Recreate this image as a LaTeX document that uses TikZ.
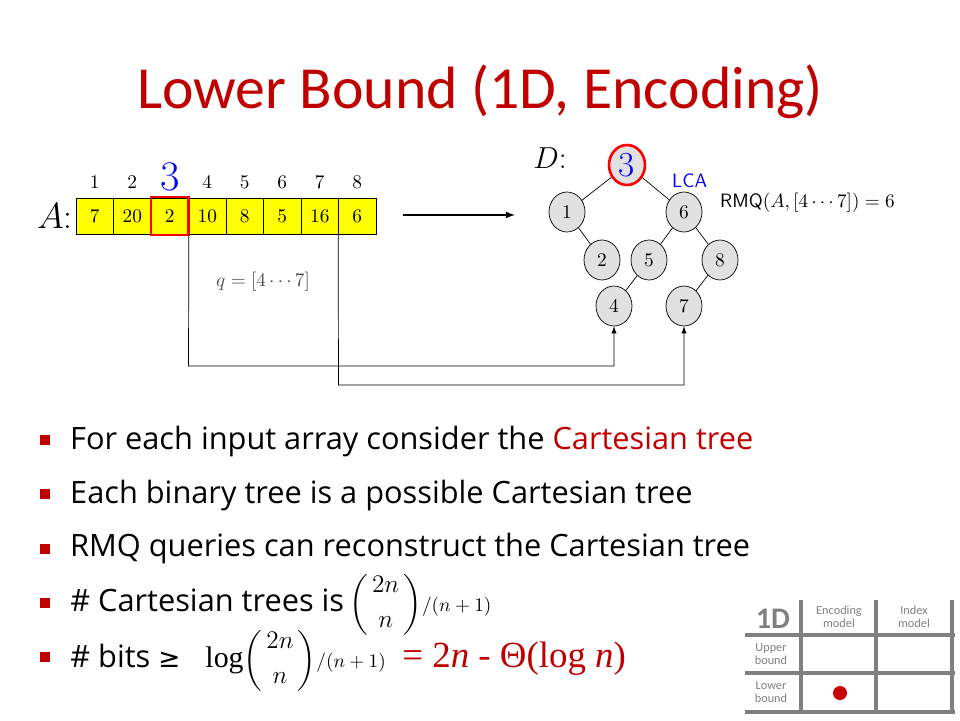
\documentclass[tikz,border=0pt]{standalone}
\usepackage{amsmath}
\usepackage{fontspec}
\setmainfont{Carlito}
\newfontfamily\lmfont{Latin Modern Roman}
\newfontfamily\timesfont{Liberation Serif}
\newfontfamily\bodyfont{Open Sans}
\newfontfamily\symfont{DejaVu Sans}
\usetikzlibrary{positioning,shapes.geometric}
\definecolor{titlered}{RGB}{192,0,0}
\definecolor{cellyellow}{RGB}{255,255,0}
\definecolor{nodegray}{RGB}{225,225,225}
\definecolor{tabgray}{RGB}{128,128,128}
\newcommand{\bigbinom}[2]{{\fontsize{14}{14}\selectfont$\left(\,\begin{matrix}#1\\[6pt]#2\end{matrix}\,\right)$}}
\tikzset{
  cell/.style={draw, fill=cellyellow, minimum width=0.75cm, minimum height=0.72cm, inner sep=0pt, font=\lmfont\fontsize{11}{11}\selectfont},
  tnode/.style={draw, fill=nodegray, ellipse, minimum width=0.72cm, minimum height=0.8cm, inner sep=0pt, font=\lmfont\fontsize{11}{11}\selectfont},
  idx/.style={font=\lmfont\fontsize{11}{11}\selectfont},
  bullet/.style={fill=titlered, minimum size=0.2cm, inner sep=0pt},
  btext/.style={anchor=west, font=\bodyfont\fontsize{17.5}{20}\selectfont},
  tabline/.style={tabgray, line width=2.2pt},
  tabtext/.style={tabgray, font=\fontsize{7}{7.5}\selectfont, align=center}
}
\begin{document}
\begin{tikzpicture}[x=0.02cm, y=-0.02cm, line cap=butt]
\useasboundingbox (0,0) rectangle (960,720);
% title
\node[titlered, font=\fontsize{34}{40}\selectfont] (title) at (480,92) {Lower Bound (1D, Encoding)};
% array A
\node[font=\lmfont\fontsize{20}{20}\selectfont] (alabel) at (55,216) {$A$:};
\foreach \v [count=\i] in {7,20,2,10,8,5,16,6} {
  \node[cell] (c\i) at ({76+37.5*(\i-0.5)},216) {\v};
}
\foreach \i in {1,2,4,5,6,7,8} {
  \node[idx] (n\i) at ({76+37.5*(\i-0.5)},182) {\i};
}
\node[blue, font=\lmfont\fontsize{24}{24}\selectfont] (n3) at (170,177) {3};
\draw[red, line width=1.6pt] (151,197) rectangle (188.5,235);
\draw[-latex, thick] (403,215) -- (515,215);
\node[idx, text=black!70] (query) at (263,282) {$q=[4\cdots7]$};
% tree D
\node[font=\lmfont\fontsize{18}{18}\selectfont] (dlabel) at (550,158) {$D$:};
\node[tnode, draw=red, line width=1.5pt, font=\lmfont\fontsize{20}{20}\selectfont, text=blue] (t3) at (627,165) {3};
\node[tnode] (t1) at (567,212) {1};
\node[tnode] (t6) at (684,212) {6};
\node[tnode] (t2) at (602,260) {2};
\node[tnode] (t5) at (649,260) {5};
\node[tnode] (t8) at (720,260) {8};
\node[tnode] (t4) at (614,306) {4};
\node[tnode] (t7) at (684,306) {7};
\draw (t3) -- (t1);
\draw (t3) -- (t6);
\draw (t1) -- (t2);
\draw (t6) -- (t5);
\draw (t6) -- (t8);
\draw (t5) -- (t4);
\draw (t8) -- (t7);
\node[blue, anchor=west, font=\sffamily\fontsize{11}{11}\selectfont] (lca) at (666,181) {LCA};
\node[anchor=west, font=\sffamily\fontsize{11}{11}\selectfont] (rmq) at (714,203) {RMQ$(A,[4\cdots7])=6$};
% query arrows
\draw[-latex] (c3.south east) -- (188.5,366) -| (t4.south);
\draw[-latex] (c8.south west) -- (338.5,385) -| (t7.south);
% bullets
\foreach \y in {440,494,549,603,657} {
  \node[bullet] at (45,\y) {};
}
\node[btext] (b1) at (64,442) {For each input array consider the \textcolor{titlered}{Cartesian tree}};
\node[btext] (b2) at (64,496) {Each binary tree is a possible Cartesian tree};
\node[btext] (b3) at (64,549) {RMQ queries can reconstruct the Cartesian tree};
\node[btext, inner sep=0pt] (b4) at (70,605) {\# Cartesian trees is\,\timesfont\bigbinom{2n}{n}\fontsize{11}{11}\selectfont$/(n+1)$};
\node[btext, inner sep=0pt] (b5) at (70,661) {\# bits {\symfont\fontsize{15}{15}\selectfont ≥}\;\; {\timesfont\fontsize{17}{17}\selectfont log}\bigbinom{2n}{n}{\fontsize{11}{11}\selectfont$/(n+1)$}\; \textcolor{titlered}{\timesfont\fontsize{21}{21}\selectfont = 2\textit{n} - Θ(log \textit{n})}};
% table
\draw[tabline] (745,635) -- (955,635);
\draw[tabline] (745,673) -- (955,673);
\draw[tabline] (745,712) -- (955,712);
\draw[tabline] (801,600) -- (801,714);
\draw[tabline] (876,600) -- (876,714);
\draw[tabline] (952,600) -- (952,714);
\node[tabgray, font=\bfseries\fontsize{17}{17}\selectfont] (oneD) at (773,619) {1D};
\node[tabtext] (enc) at (839,617) {Encoding\\model};
\node[tabtext] (ind) at (914,617) {Index\\model};
\node[tabtext] (upb) at (771,654) {Upper\\bound};
\node[tabtext] (lob) at (771,692) {Lower\\bound};
\fill[red!80!black] (840,693) circle (7);
\end{tikzpicture}
\end{document}
